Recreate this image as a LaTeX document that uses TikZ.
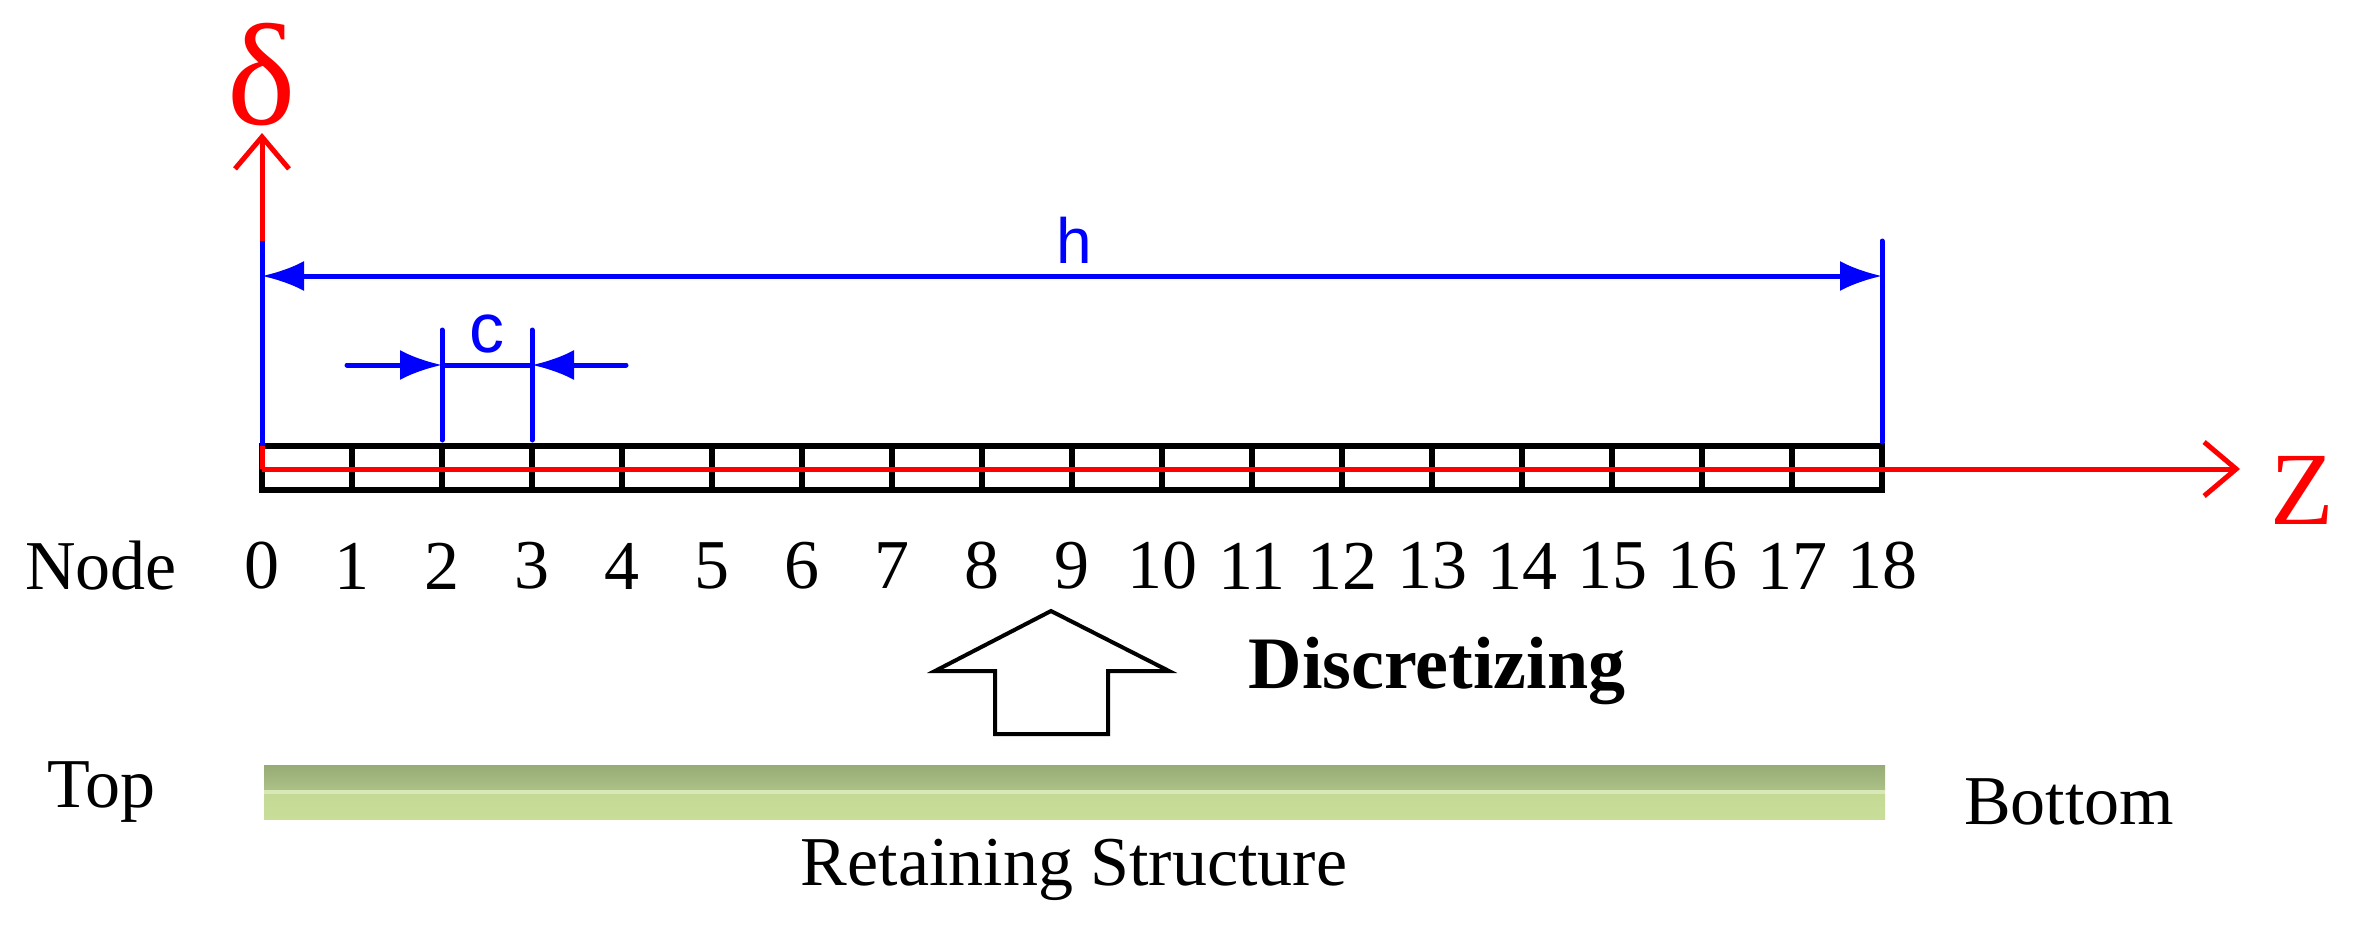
\documentclass[tikz,border=0pt]{standalone}
\usepackage{fontspec}
\setmainfont{Liberation Serif}
\newfontfamily\sansf{Liberation Sans}
\usetikzlibrary{arrows.meta}
\definecolor{gdark}{HTML}{A8BE84}
\definecolor{glight}{HTML}{C8DE98}
\begin{document}
\begin{tikzpicture}[x=1pt,y=-1pt,
  grid/.style={black,line width=6pt},
  ax/.style={red,line width=5pt},
  dim/.style={blue,line width=5pt},
  lbl/.style={font=\fontsize{70}{74}\selectfont,inner sep=0pt}]
\useasboundingbox (0,0) rectangle (2365,940);
% grid
\draw[grid] (262,446) rectangle (1882,490);
\foreach \i in {1,...,17} \draw[grid] (262+90*\i,446) -- (262+90*\i,490);
% axes
\coordinate (O) at (262,469);
\coordinate (Zt) at (2240,469);
\coordinate (Dt) at (262,133);
\draw[ax,-{Straight Barb[length=32pt,width=54pt,line width=5pt]}] (O) -- (Zt);
\draw[ax,-{Straight Barb[length=32pt,width=54pt,line width=5pt]}] (262,469) -- (Dt);
\node[red,inner sep=0pt,font=\fontsize{104}{104}\selectfont] (Z) at (2302,490) {Z};
\node[red,inner sep=0pt,font=\fontsize{145}{145}\selectfont] (D) at (262,75) {δ};
% h dimension
\coordinate (L1) at (262,241); \coordinate (L2) at (262,446);
\coordinate (R1) at (1882,241); \coordinate (R2) at (1882,442);
\draw[dim] (L1) -- (L2);
\draw[dim,line cap=round] (R1) -- (R2);
\coordinate (hl) at (262,276); \coordinate (hr) at (1882,276);
\draw[dim,{Latex[length=42pt,width=30pt]}-{Latex[length=42pt,width=30pt]}] (hl) -- (hr);
\node[blue,font=\sansf\fontsize{64}{64}\selectfont,inner sep=0pt] (h) at (1074,240) {h};
% c dimension
\coordinate (c2a) at (442,330); \coordinate (c2b) at (442,440);
\coordinate (c3a) at (532,330); \coordinate (c3b) at (532,440);
\draw[dim,line cap=round] (c2a) -- (c2b);
\draw[dim,line cap=round] (c3a) -- (c3b);
\coordinate (ca) at (347,365); \coordinate (cb) at (626,365);
\coordinate (c2m) at (442,365); \coordinate (c3m) at (532,365);
\draw[dim,line cap=round,-{Latex[length=42pt,width=30pt]}] (ca) -- (c2m);
\draw[dim,line cap=round,-{Latex[length=42pt,width=30pt]}] (cb) -- (c3m);
\draw[dim] (c2m) -- (c3m);
\node[blue,font=\sansf\fontsize{70}{70}\selectfont,inner sep=0pt] (c) at (487,334) {c};
% node labels
\node[lbl,anchor=center] (nl) at (101,566) {Node};
\foreach \i in {0,...,18} \node[lbl] (n\i) at (262+90*\i,566) {\i};
% block arrow
\draw[black,line width=4pt,fill=white,line join=miter]
  (1051,611) -- (1169,671) -- (1108,671) -- (1108,734) -- (995,734) -- (995,671) -- (935,671) -- cycle;
\node[lbl,font=\bfseries\fontsize{74}{74}\selectfont] (disc) at (1437,671) {Discretizing};
% retaining structure
\fill[glight] (264,765) rectangle (1885,819);
\shade[top color=gdark!90!black,bottom color=gdark!90!glight] (264,765) rectangle (1885,790);
\fill[glight!70!white] (264,790) rectangle (1885,794);
\shade[top color=glight!85!gdark,bottom color=glight] (264,794) rectangle (1885,819);
\node[lbl] (top) at (101,792) {Top};
\node[lbl] (bot) at (2069,802) {Bottom};
\node[lbl] (rs) at (1074,870) {Retaining Structure};
\end{tikzpicture}
\end{document}
